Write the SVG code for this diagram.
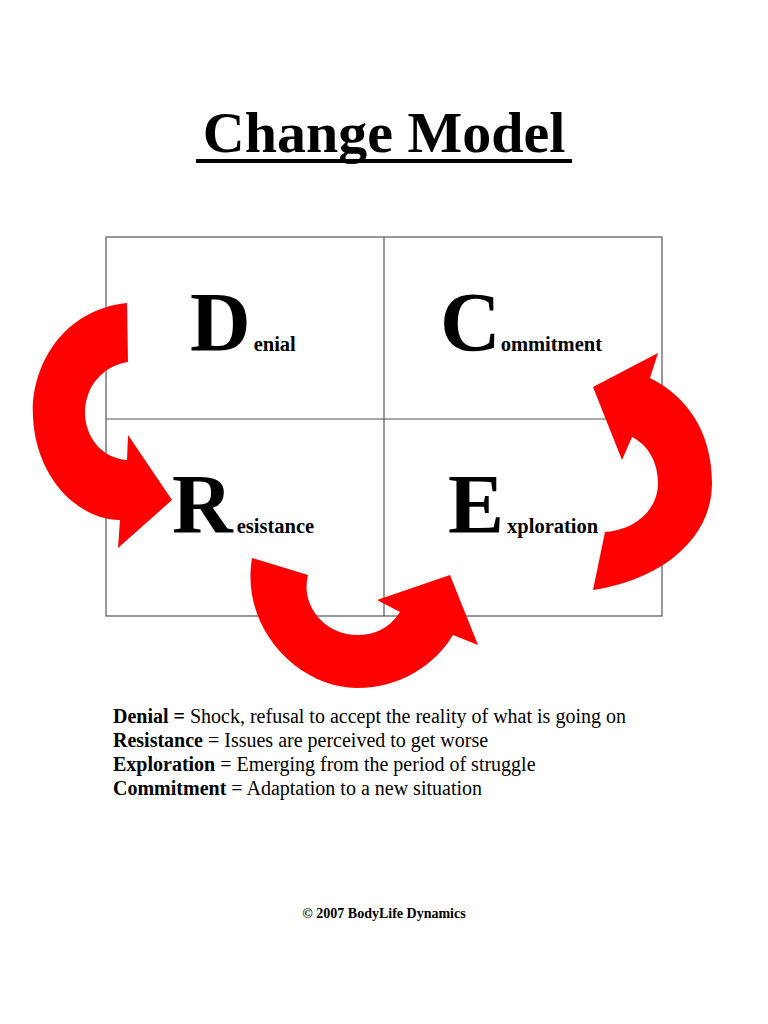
<svg xmlns="http://www.w3.org/2000/svg" width="768" height="1024" viewBox="0 0 768 1024">
<style>
.t{font-family:"Liberation Serif",serif;fill:#000}
.b{font-weight:bold}
.big{font-size:84px;font-weight:bold;font-family:"Liberation Serif",serif}
.sm{font-size:20.5px;font-weight:bold;font-family:"Liberation Serif",serif}
.ln{stroke:#555;stroke-width:1.2;fill:none}
.ar{fill:#ff0000}
</style>
<rect width="768" height="1024" fill="#fff"/>
<g id="title">
<text class="t b" x="384" y="152" font-size="58" text-anchor="middle">Change Model</text>
<rect x="196" y="159" width="376" height="4" fill="#000"/>
</g>
<g id="grid">
<rect class="ln" x="106" y="237" width="556" height="379"/>
<line class="ln" x1="384" y1="237" x2="384" y2="616"/>
<line class="ln" x1="106" y1="419" x2="662" y2="419"/>
</g>
<g id="connectors">
<path class="ar" d="M127,303 C60,310 30,370 33,417 C36,480 80,520 120,520 L118,548 L172,500 L128,435 L127,460 C100,458 85,435 85,413 C85,385 105,365 128,362 Z"/>
<path class="ar" d="M252,558 C240,630 300,688 357,688 C400,688 435,665 453,635 L478,645 L450,575 L377,600 L400,612 C390,628 375,635 357,635 C325,635 300,605 308,575 Z"/>
<path class="ar" d="M593,590 C660,580 712,540 712,483 C712,430 685,395 650,378 L658,353 L593,387 L622,460 L632,437 C648,445 658,462 658,483 C658,510 635,530 605,532 Z"/>
</g>
<g id="denial"><text x="190" y="351"><tspan class="big">D</tspan><tspan class="sm" dx="3">enial</tspan></text></g>
<g id="commitment"><text x="440" y="351"><tspan class="big">C</tspan><tspan class="sm" dx="0">ommitment</tspan></text></g>
<g id="resistance"><text x="172" y="533"><tspan class="big">R</tspan><tspan class="sm" dx="4">esistance</tspan></text></g>
<g id="exploration"><text x="448" y="533"><tspan class="big">E</tspan><tspan class="sm" dx="3">xploration</tspan></text></g>
<g id="legend">
<text class="t" font-size="20" x="113" y="723"><tspan class="b">Denial =</tspan> Shock, refusal to accept the reality of what is going on</text>
<text class="t" font-size="20" x="113" y="747"><tspan class="b">Resistance</tspan> = Issues are perceived to get worse</text>
<text class="t" font-size="20" x="113" y="771"><tspan class="b">Exploration</tspan> = Emerging from the period of struggle</text>
<text class="t" font-size="20" x="113" y="795"><tspan class="b">Commitment</tspan> = Adaptation to a new situation</text>
</g>
<text class="t b" x="384" y="918" font-size="14" text-anchor="middle">© 2007 BodyLife Dynamics</text>
</svg>
